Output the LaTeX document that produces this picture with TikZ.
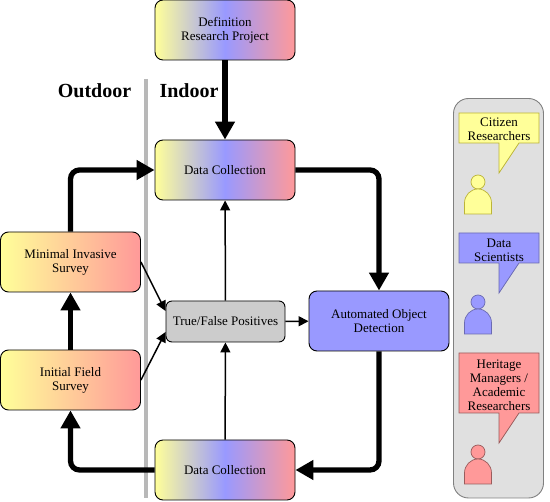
\documentclass[tikz,border=0pt]{standalone}
\usepackage{fontspec}
\setmainfont{Liberation Serif}
\usetikzlibrary{arrows.meta}
\definecolor{softyellow}{HTML}{FFFF99}
\definecolor{softblue}{HTML}{9999FF}
\definecolor{softred}{HTML}{FF9999}
\tikzset{
  box/.style={draw=black,line width=0.9pt,rounded corners=8pt,minimum width=140pt,minimum height=60pt,
    align=center,inner sep=0pt,font=\fontsize{13}{14}\selectfont},
  mixbox/.style={box,left color=softyellow,right color=softred,middle color=softblue},
  warmbox/.style={box,left color=softyellow,right color=softred},
  bigarrow/.style={line width=5.3pt,rounded corners=9pt,-{Triangle[width=19pt,length=18pt]}},
  thinarrow/.style={line width=1.5pt,-{Triangle[width=10pt,length=10pt]}},
  sidehead/.style={font=\fontsize{20}{22}\selectfont\bfseries,inner sep=0pt},
  saytext/.style={align=center,inner sep=0pt,font=\fontsize{13}{14}\selectfont},
}
\begin{document}
\begin{tikzpicture}[x=1pt,y=-1pt]
\useasboundingbox (0,0) rectangle (550,502);
\draw[line width=3.5pt,black!28] (146,79)--(146,498);
\node[sidehead] (outdoor) at (94.5,91) {Outdoor};
\node[sidehead] (indoor) at (189,91) {Indoor};
\node[mixbox] (definition) at (225,30) {Definition\\Research Project};
\node[mixbox] (dc1) at (225,170) {Data Collection};
\node[warmbox] (minimal) at (70.5,262) {Minimal Invasive\\Survey};
\node[warmbox] (initial) at (70.5,380) {Initial Field\\Survey};
\node[box,fill=black!20,minimum width=119pt,minimum height=41pt,rounded corners=6pt] (tfp) at (225.5,321.5) {True/False Positives};
\node[box,fill=softblue] (auto) at (379,321) {Automated Object\\Detection};
\node[mixbox] (dc2) at (225,470) {Data Collection};
\draw[bigarrow] (definition)--(dc1);
\draw[bigarrow] (dc1.east) -| (auto.north);
\draw[bigarrow] (auto.south) |- (dc2.east);
\draw[bigarrow] (dc2.west) -| (initial.south);
\draw[bigarrow] (initial)--(minimal);
\draw[bigarrow] (minimal.north) |- (dc1.west);
\draw[thinarrow] (dc2)--(tfp);
\draw[thinarrow] (tfp)--(dc1);
\draw[thinarrow] (tfp)--(auto);
\draw[thinarrow] (minimal.east)--(tfp.west |- 0,311);
\draw[thinarrow] (initial.east)--(tfp.west |- 0,332);
% user panel
\draw[fill=black!12,draw=black!50,line width=0.9pt,rounded corners=15pt] (453.5,98.5) rectangle (543.5,498);
\draw[fill=softyellow,draw=yellow!70!black,line width=0.7pt] (459,113)--(539,113)--(539,143)--(519,143)--(499,173)--(499,143)--(459,143)--cycle;
\node[saytext] (citizen) at (499,129.5) {Citizen\\Researchers};
\draw[fill=softyellow,draw=yellow!70!black,line width=0.7pt] (478,182) circle (7);
\draw[fill=softyellow,draw=yellow!70!black,line width=0.7pt] (464.5,214)--(464.5,203) arc[start angle=180,end angle=0,x radius=13.5,y radius=-14]--(491.5,214)--cycle;
\draw[fill=softblue,draw=softblue!70!black,line width=0.7pt] (459,233)--(539,233)--(539,263)--(519,263)--(499,293)--(499,263)--(459,263)--cycle;
\node[saytext] (scientists) at (499,250) {Data\\Scientists};
\draw[fill=softblue,draw=softblue!70!black,line width=0.7pt] (478,302) circle (7);
\draw[fill=softblue,draw=softblue!70!black,line width=0.7pt] (464.5,334)--(464.5,323) arc[start angle=180,end angle=0,x radius=13.5,y radius=-14]--(491.5,334)--cycle;
\draw[fill=softred,draw=softred!60!black,line width=0.7pt] (459,353)--(539,353)--(539,413)--(519,413)--(499,443)--(499,413)--(459,413)--cycle;
\node[saytext] (managers) at (499,385) {Heritage\\Managers /\\Academic\\Researchers};
\draw[fill=softred,draw=softred!60!black,line width=0.7pt] (478,452) circle (7);
\draw[fill=softred,draw=softred!60!black,line width=0.7pt] (464.5,484)--(464.5,473) arc[start angle=180,end angle=0,x radius=13.5,y radius=-14]--(491.5,484)--cycle;
\end{tikzpicture}
\end{document}
